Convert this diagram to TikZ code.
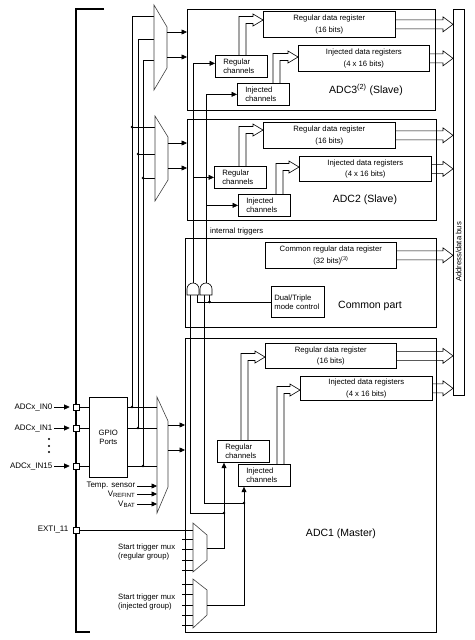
\documentclass[tikz,border=0pt]{standalone}
\usepackage{fontspec}
\setmainfont{Liberation Sans}
\usetikzlibrary{arrows.meta,calc}
\newcommand{\fsReg}{\fontsize{7.7}{11.5}\selectfont}
\newcommand{\fsChan}{\fontsize{7.7}{9}\selectfont}
\newcommand{\fsBig}{\fontsize{10.5}{12}\selectfont}
\newcommand{\fsPin}{\fontsize{8}{9}\selectfont}
\newcommand{\bentarrow}[4]{%
 \draw[lnk] (#3,0 |- #1.north) -- (#3,#4-3.5) -- ($(#2.west |- 0,#4)+(-10,-3.5)$) -- ($(#2.west |- 0,#4)+(-10,-6)$) -- (#2.west |- 0,#4) -- ($(#2.west |- 0,#4)+(-10,6)$) -- ($(#2.west |- 0,#4)+(-10,3.5)$) -- (#3+7,#4+3.5) -- (#3+7,0 |- #1.north);}
\newcommand{\busarrow}[1]{%
 \draw[lnk] ($(#1.east)+(0,-4.5)$) -- ($(bus.west |- #1.east)+(-10,-4.5)$) -- ($(bus.west |- #1.east)+(-10,-7.5)$) -- (bus.west |- #1.east) -- ($(bus.west |- #1.east)+(-10,7.5)$) -- ($(bus.west |- #1.east)+(-10,4.5)$) -- ($(#1.east)+(0,4.5)$);}
\begin{document}
\begin{tikzpicture}[x=1pt,y=-1pt,
 lnk/.style={line width=0.6pt},
 arr/.style={lnk,-{Triangle[length=5.5pt,width=5pt]}},
 adcbox/.style={draw,line width=1.4pt,inner sep=0pt,anchor=north west},
 blk/.style={draw,line width=0.7pt,inner sep=0pt,anchor=north west,font=\fsReg,align=center},
 chan/.style={draw,line width=0.7pt,anchor=north west,font=\fsChan,align=left,text width=36pt,inner xsep=8pt,inner ysep=0pt,minimum height=22pt},
 muxs/.style={draw=black!75,line width=0.6pt,fill=white},
 dot/.style={circle,fill,inner sep=0pt,minimum size=2.8pt},
 pin/.style={draw,line width=0.6pt,minimum size=6pt,inner sep=0pt,fill=white},
 gate/.style={draw,line width=0.6pt,fill=white},
 lbl/.style={font=\fsPin,anchor=east,inner sep=1.5pt}
]
\useasboundingbox (0,0) rectangle (474,640);

% main ADC boxes
\node[adcbox,minimum width=248,minimum height=101] (adc3) at (187,9) {};
\node[adcbox,minimum width=249,minimum height=101] (adc2) at (187,119) {};
\node[adcbox,minimum width=251,minimum height=89] (common) at (185,238) {};
\node[adcbox,minimum width=251,minimum height=294] (adc1) at (185,338) {};

% bus
\node[draw,line width=0.7pt,minimum width=11,minimum height=386,anchor=north west,inner sep=0pt] (bus) at (453,9) {};
\node[font=\fsReg,rotate=90] (bustxt) at (458.5,252) {Address/data bus};

% left bracket
\draw[line width=1.1pt] (104,9) -- (76,9) -- (76,632) -- (90,632);

% registers
\node[blk,minimum width=132,minimum height=26] (reg3) at (263,11) {Regular data register\\(16 bits)};
\node[blk,minimum width=131,minimum height=26] (inj3) at (298,45) {Injected data registers\\(4 x 16 bits)};
\node[blk,minimum width=132,minimum height=26] (reg2) at (263,122) {Regular data register\\(16 bits)};
\node[blk,minimum width=132,minimum height=25] (inj2) at (299,156) {Injected data registers\\(4 x 16 bits)};
\node[blk,minimum width=131,minimum height=26] (creg) at (265,242) {Common regular data register\\(32 bits)\textsuperscript{(3)}};
\node[blk,minimum width=131,minimum height=25] (reg1) at (265,343) {Regular data register\\(16 bits)};
\node[blk,minimum width=132,minimum height=24] (inj1) at (300,376) {Injected data registers\\(4 x 16 bits)};

% channel boxes
\node[chan] (rc3) at (215,55) {Regular\\channels};
\node[chan] (ic3) at (237,83) {Injected\\channels};
\node[chan] (rc2) at (214,166) {Regular\\channels};
\node[chan] (ic2) at (238,194) {Injected\\channels};
\node[chan] (rc1) at (217,440) {Regular\\channels};
\node[chan] (ic1) at (238,464) {Injected\\channels};
\node[draw,line width=0.7pt,anchor=north west,font=\fsChan,align=left,text width=47pt,inner xsep=3pt,inner ysep=0pt,minimum height=31pt] (dual) at (271,286) {Dual/Triple\\mode control};

% labels
\node[font=\fsBig] (t3) at (366,90) {ADC3\textsuperscript{(2)} (Slave)};
\node[font=\fsBig] (t2) at (365,200) {ADC2 (Slave)};
\node[font=\fsBig] (tc) at (370,306) {Common part};
\node[font=\fsBig] (t1) at (341,534) {ADC1 (Master)};
\node[font=\fsChan,anchor=west,inner sep=0pt] (itr) at (210,232) {internal triggers};

% hollow arrows to registers
\bentarrow{rc3}{reg3}{239}{20}
\bentarrow{ic3}{inj3}{273}{57}
\bentarrow{rc2}{reg2}{239}{130}
\bentarrow{ic2}{inj2}{276}{167}
\bentarrow{rc1}{reg1}{241}{357}
\bentarrow{ic1}{inj1}{277}{390}

% hollow arrows to bus
\busarrow{reg3}
\busarrow{inj3}
\busarrow{reg2}
\busarrow{inj2}
\busarrow{creg}
\busarrow{reg1}
\busarrow{inj1}

% analog input lines
\draw[lnk] (154,16) -| (132,407);
\draw[lnk] (154,39) -| (138,428);
\draw[lnk] (154,60) -| (143,466);
\draw[lnk] (132,127) -- (155,127);
\draw[lnk] (138,154) -- (155,154);
\draw[lnk] (143,178) -- (155,178);
\node[dot] at (132,127) {};
\node[dot] at (138,154) {};
\node[dot] at (143,178) {};

% muxes
\draw[muxs] (154,5) -- (167,27) -- (167,68) -- (154,90) -- cycle;
\draw[muxs] (155,116) -- (168,137) -- (168,180) -- (155,201) -- cycle;
\draw[muxs] (157,397) -- (168,421) -- (168,487) -- (157,513) -- cycle;
\draw[arr] (167,32) -- (adc3.west |- 0,32);
\draw[arr] (167,57) -- (adc3.west |- 0,57);
\draw[arr] (168,143) -- (adc2.west |- 0,143);
\draw[arr] (168,168) -- (adc2.west |- 0,168);
\draw[arr] (168,425) -- (adc1.west |- 0,425);
\draw[arr] (168,450) -- (adc1.west |- 0,450);

% GPIO and pins
\node[draw,line width=0.7pt,anchor=north west,minimum width=38,minimum height=80,inner sep=0pt,font=\fsChan,align=center] (gpio) at (89,397) {GPIO\\Ports};
\node[pin] (p0) at (76,407) {};
\node[pin] (p1) at (76,428) {};
\node[pin] (p15) at (76,466) {};
\node[pin] (pe) at (76,530) {};
\node[lbl] (l0) at (54,407) {ADCx\_IN0};
\node[lbl] (l1) at (54,428) {ADCx\_IN1};
\node[lbl] (l15) at (54,466) {ADCx\_IN15};
\node[lbl] (le) at (70,530) {EXTI\_11};
\draw[arr,shorten >=3pt] (l0.east) -- (p0.west);
\draw[arr,shorten >=3pt] (l1.east) -- (p1.west);
\draw[arr,shorten >=3pt] (l15.east) -- (p15.west);
\fill (49,439) circle (1.2pt) (49,446) circle (1.2pt) (49,452) circle (1.2pt);
\draw[lnk] (p0.east) -- (gpio.west |- p0);
\draw[lnk] (p1.east) -- (gpio.west |- p1);
\draw[lnk] (p15.east) -- (gpio.west |- p15);
\draw[lnk] (gpio.east |- p0) -- (157,407);
\draw[lnk] (gpio.east |- p1) -- (157,428);
\draw[lnk] (gpio.east |- p15) -- (157,466);
\node[dot] at (132,407) {};
\node[dot] at (138,428) {};
\node[dot] at (143,466) {};

% internal channels
\node[lbl,font=\fsPin] (lt) at (137,486) {Temp. sensor};
\node[lbl,font=\fsPin] (lr) at (137,494) {V\textsubscript{REFINT}};
\node[lbl,font=\fsPin] (lb) at (137,504) {V\textsubscript{BAT}};
\draw[arr] (lt.east) -- (157,0 |- lt.east);
\draw[arr] (lr.east) -- (157,0 |- lr.east);
\draw[arr] (lb.east) -- (157,0 |- lb.east);

% start trigger muxes
\draw[lnk] (pe.east) -- (193,530);
\foreach \yy in {539,549,560,570,584,594,605,615,625} \draw[lnk] (182,\yy) -- (193,\yy);
\draw[muxs] (193,523) -- (207,535) -- (207,560) -- (193,572) -- cycle;
\draw[muxs] (193,579) -- (207,590) -- (207,615) -- (193,628) -- cycle;
\node[font=\fsChan,anchor=west,align=left,inner sep=0pt] (smr) at (118,552.5) {Start trigger mux\\(regular group)};
\node[font=\fsChan,anchor=west,align=left,inner sep=0pt] (smi) at (118,602) {Start trigger mux\\(injected group)};
\coordinate (mro) at (207,548);
\coordinate (mio) at (207,605);
\draw[arr] (mro) -| (224,0 |- rc1.south);
\draw[arr] (mio) -| (244,0 |- ic1.south);

% gates and internal triggers
\coordinate (g1o) at (193,283);
\coordinate (g2o) at (206,283);
\draw[arr] (g1o) |- ($(rc3.west)+(0,-3)$);
\draw[arr] (g1o) |- (rc2.west);
\draw[arr] (g2o) |- (ic3.west);
\draw[arr] (g2o) |- (ic2.west);
\draw[lnk] (190.5,295) |- (224,513);
\draw[lnk] (204.5,295) |- (244,503);
\node[dot] at (224,513) {};
\node[dot] at (244,503) {};
\draw[lnk] (dual.west) -| (197,295);
\draw[lnk] (209.5,0 |- dual.west) -- (209.5,295);
\node[dot] at (209.5,0 |- dual.west) {};
\draw[gate] (187,295) -- (187,289) arc[start angle=180,end angle=0,radius=6pt] -- (199,295) -- cycle;
\draw[gate] (200,295) -- (200,289) arc[start angle=180,end angle=0,radius=6pt] -- (212,295) -- cycle;
\end{tikzpicture}
\end{document}
